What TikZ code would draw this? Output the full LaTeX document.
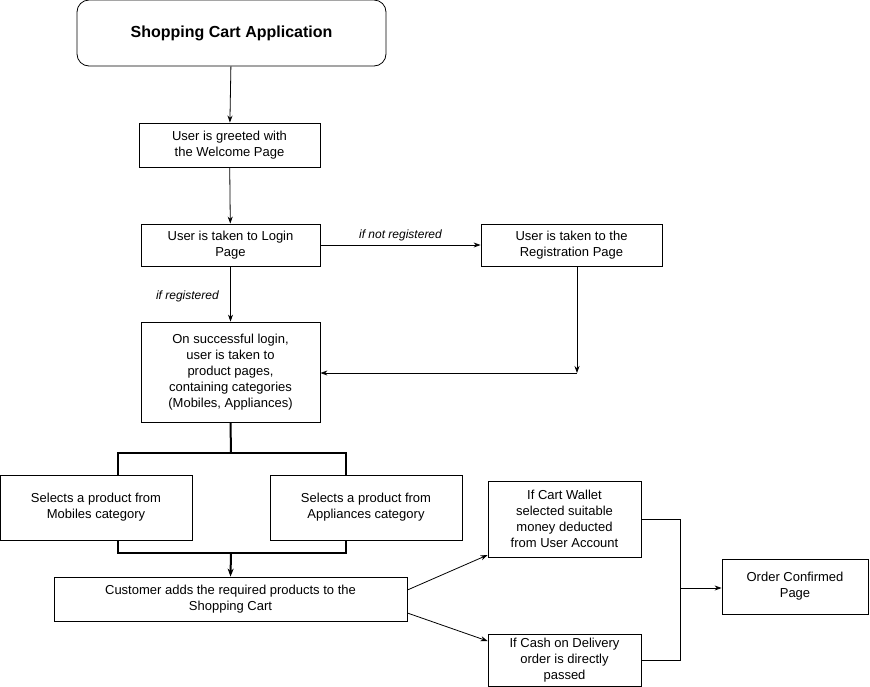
\documentclass[tikz,border=0pt]{standalone}
\usepackage{fontspec}
\setmainfont{Liberation Sans}
\usetikzlibrary{arrows.meta}
\begin{document}
\begin{tikzpicture}[x=1pt,y=-1pt,
  box/.style={draw,thick,align=center,inner sep=0pt,font=\fontsize{13}{16}\selectfont},
  arr/.style={-{Stealth[length=7pt,width=5pt]},thick},
  thk/.style={line width=2pt},
  lab/.style={font=\fontsize{12}{14}\selectfont\itshape}]
\useasboundingbox (0,0) rectangle (870,686);
\node[box,rounded corners=12pt,minimum width=309,minimum height=66,font=\fontsize{16}{18}\selectfont\bfseries] (title) at (231.5,33) {Shopping Cart Application};
\node[box,minimum width=181,minimum height=44] (wel) at (229.5,145) {User is greeted with\\the Welcome Page};
\node[box,minimum width=179,minimum height=42] (login) at (230.5,245) {User is taken to Login\\Page};
\node[box,minimum width=181,minimum height=42] (reg) at (571.5,245) {User is taken to the\\Registration Page};
\node[box,minimum width=179,minimum height=100] (prod) at (230.5,372) {On successful login,\\user is taken to\\product pages,\\containing categories\\(Mobiles, Appliances)};
\node[box,minimum width=192,minimum height=65] (mob) at (96,507.5) {Selects a product from\\Mobiles category};
\node[box,minimum width=192,minimum height=65] (app) at (366,507.5) {Selects a product from\\Appliances category};
\node[box,minimum width=353,minimum height=44] (cust) at (230.5,599) {Customer adds the required products to the\\Shopping Cart};
\node[box,minimum width=153,minimum height=76] (wal) at (564.5,519) {If Cart Wallet\\selected suitable\\money deducted\\from User Account};
\node[box,minimum width=153,minimum height=52] (cash) at (564.5,660) {If Cash on Delivery\\order is directly\\passed};
\node[box,minimum width=146,minimum height=55] (ord) at (795,586.5) {Order Confirmed\\Page};
\coordinate (j1) at (680,519);
\coordinate (j2) at (680,588);
\draw[arr] (title) -- (wel);
\draw[arr] (wel) -- (login);
\draw[arr] (login) -- node[lab,left,pos=0.55,xshift=-8pt] {if registered} (prod);
\draw[arr] (login) -- node[lab,above] {if not registered} (reg);
\draw[arr] (reg.south -| 577,0) -- (577,373);
\draw[arr] (577,373) -- (prod.east |- 0,373);
\draw[thk] (prod.south) -- (231,453);
\draw[thk] (118,475) -- (118,453) -- (346,453) -- (346,475);
\draw[thk] (118,540) -- (118,553) -- (346,553) -- (346,540);
\draw[thk,-{Stealth[length=8pt,width=6pt]}] (231,553) -- (cust.north);
\draw[arr] (cust.east |- 0,590) -- (wal.west |- 0,555);
\draw[arr] (cust.east |- 0,613) -- (cash.west |- 0,641);
\draw[thick] (wal.east) -- (j1) -- (680,660) -- (cash.east);
\draw[arr] (j2) -- (ord.west |- j2);
\end{tikzpicture}
\end{document}
